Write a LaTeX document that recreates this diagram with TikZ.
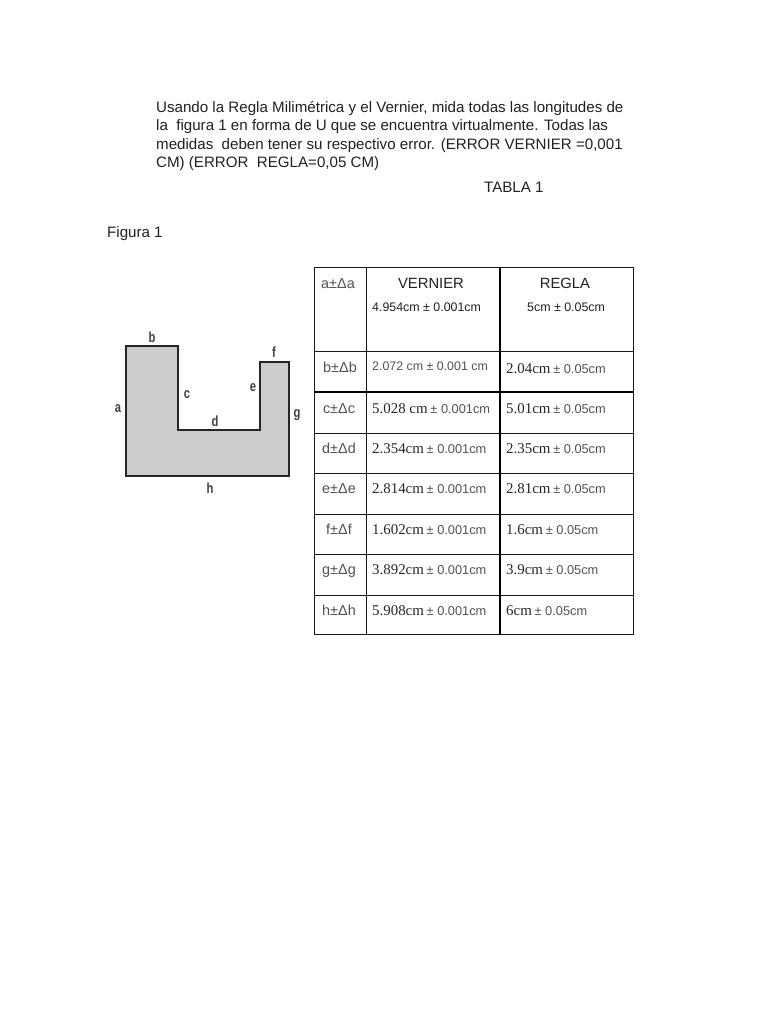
\documentclass[tikz,border=0pt]{standalone}
\usepackage{fontspec}
\setmainfont{Liberation Sans}
\newfontfamily\serifnum{Liberation Serif}
\definecolor{txt}{gray}{0.13}
\definecolor{soft}{gray}{0.32}
\definecolor{ushape}{gray}{0.8}
\newcommand{\fs}[1]{\fontsize{#1}{#1}\selectfont}
% serif value followed by a lighter sans error term
\newcommand{\mixval}[2]{{\serifnum\fs{14.9}\color{black!85}#1} {\fs{12.8}\color{soft}#2}}
\tikzset{
  body/.style={anchor=base west,inner sep=0pt,text=txt,font=\fs{15.12}},
  rowhead/.style={anchor=base,inner sep=0pt,text=soft,font=\fs{14.4}},
  colhead/.style={anchor=base,inner sep=0pt,text=txt,font=\fs{14.8}},
  cellsans/.style={anchor=base west,inner sep=0pt,text=txt,font=\fs{12.4}},
  cellval/.style={anchor=base west,inner sep=0pt},
  thin grid/.style={draw=black!90,line width=0.9pt},
  thick grid/.style={draw=black,line width=1.7pt},
  ulabel/.style={inner sep=0pt,text=black!75,font=\fs{14}\bfseries,xscale=0.8,yscale=1.05}
}
\begin{document}
\begin{tikzpicture}[x=1pt,y=-1pt]
\useasboundingbox[fill=white] (0,0) rectangle (768,1024);
% paragraph
\node[body] (l1) at (156,113) {Usando la Regla Milimétrica y el Vernier, mida todas las longitudes de};
\node[body] (l2) at (156,131) {la\ \ figura 1 en forma de U que se encuentra virtualmente. Todas las};
\node[body] (l3) at (156,150) {medidas\ \ deben tener su respectivo error. (ERROR VERNIER =0,001};
\node[body] (l4) at (156,168) {CM) (ERROR\ \ REGLA=0,05 CM)};
\node[body] (tabla) at (484,193) {TABLA 1};
\node[body] (figura) at (107,237) {Figura 1};
% U figure
\fill[ushape] (126,346) -- (178,346) -- (178,430) -- (260,430) -- (260,362) -- (289,362) -- (289,476) -- (126,476) -- cycle;
\draw[black!85,line width=2.5pt,line join=miter] (126,346) -- (178,346) -- (178,430) -- (260,430) -- (260,362) -- (289,362) -- (289,476) -- (126,476) -- cycle;
\node[ulabel] (ua) at (118,409) {a};
\node[ulabel] (ub) at (152,337) {b};
\node[ulabel] (uc) at (187,395) {c};
\node[ulabel] (ud) at (215,421) {d};
\node[ulabel] (ue) at (253,388) {e};
\node[ulabel] (uf) at (274,352) {f};
\node[ulabel] (ug) at (297,415) {g};
\node[ulabel] (uh) at (210,488) {h};
% table grid
\draw[thin grid] (314,267) rectangle (633,634.5);
\draw[thin grid] (366,267) -- (366,634.5);
\draw[thick grid] (500,267) -- (500,634.5);
\draw[thin grid] (314,351) -- (633,351);
\draw[thick grid] (314,392) -- (633,392);
\foreach \yy in {433,473,514,554,595} \draw[thin grid] (314,\yy) -- (633,\yy);
% header row
\node[rowhead] (ha) at (338,288) {a±Δa};
\node[colhead] (hv) at (431,288) {VERNIER};
\node[colhead] (hr) at (565,288) {REGLA};
\node[cellsans] (va) at (372,311) {4.954cm ± 0.001cm};
\node[cellsans] (ra) at (527,311) {5cm ± 0.05cm};
% rows
\node[rowhead] (hb) at (340,372) {b±Δb};
\node[cellsans,text=soft] (vb) at (372,370) {2.072 cm ± 0.001 cm};
\node[cellval] (rb) at (506,373) {\mixval{2.04cm}{± 0.05cm}};
\node[rowhead] (hc) at (339,413) {c±Δc};
\node[cellval] (vc) at (372,413) {\mixval{5.028 cm}{± 0.001cm}};
\node[cellval] (rc) at (506,413) {\mixval{5.01cm}{± 0.05cm}};
\node[rowhead] (hd) at (339,453) {d±Δd};
\node[cellval] (vd) at (372,453) {\mixval{2.354cm}{± 0.001cm}};
\node[cellval] (rd) at (506,453) {\mixval{2.35cm}{± 0.05cm}};
\node[rowhead] (he) at (339,493) {e±Δe};
\node[cellval] (ve) at (372,493) {\mixval{2.814cm}{± 0.001cm}};
\node[cellval] (re) at (506,493) {\mixval{2.81cm}{± 0.05cm}};
\node[rowhead] (hf) at (339,534) {f±Δf};
\node[cellval] (vf) at (372,534) {\mixval{1.602cm}{± 0.001cm}};
\node[cellval] (rf) at (506,534) {\mixval{1.6cm}{± 0.05cm}};
\node[rowhead] (hg) at (339,574) {g±Δg};
\node[cellval] (vg) at (372,574) {\mixval{3.892cm}{± 0.001cm}};
\node[cellval] (rg) at (506,574) {\mixval{3.9cm}{± 0.05cm}};
\node[rowhead] (hh) at (339,615) {h±Δh};
\node[cellval] (vh) at (372,615) {\mixval{5.908cm}{± 0.001cm}};
\node[cellval] (rh) at (506,615) {\mixval{6cm}{± 0.05cm}};
\end{tikzpicture}
\end{document}
